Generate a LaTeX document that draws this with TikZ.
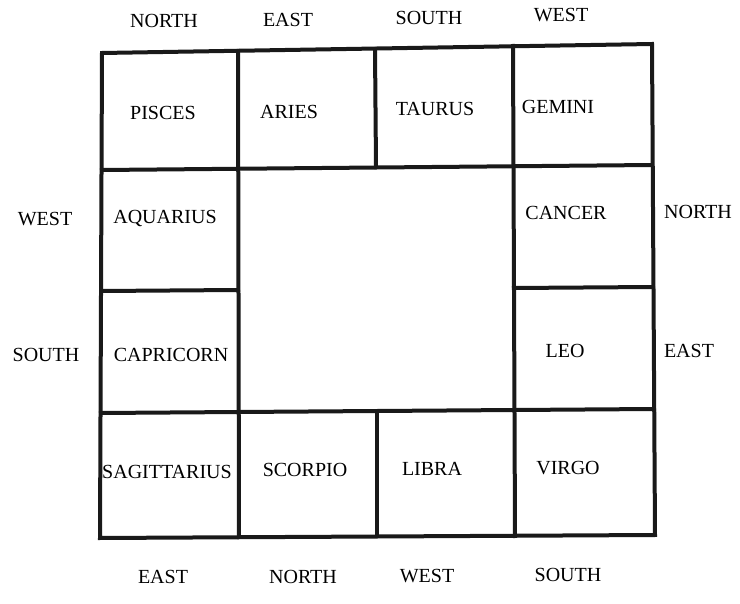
\documentclass[tikz,border=0pt]{standalone}
\usepackage{fontspec}
\setmainfont{Liberation Serif}
\begin{document}
\begin{tikzpicture}[x=1pt,y=-1pt,
  grid/.style={line width=4pt,draw=black!90,line cap=rect,line join=miter},
  sign/.style={font=\fontsize{20}{24}\selectfont,inner sep=0pt,anchor=center},
  dir/.style={font=\fontsize{20}{24}\selectfont,inner sep=0pt,anchor=center}]
\useasboundingbox (0,0) rectangle (740,604);
% outer frame
\draw[grid] (102,53) -- (652,44) -- (655,535) -- (100,538) -- cycle;
% full horizontal lines
\draw[grid] (102,170) -- (652,165);
\draw[grid] (101,413) -- (654,409);
% partial horizontal lines
\draw[grid] (102,291) -- (238,290);
\draw[grid] (514,288) -- (653,287);
% full vertical lines
\draw[grid] (238,51) -- (239,537);
\draw[grid] (513,46) -- (515,536);
% partial vertical lines
\draw[grid] (375,49) -- (376,167);
\draw[grid] (377,411) -- (377,536);
% signs
\node[sign] (pisces) at (163,113) {PISCES};
\node[sign] (aries) at (289,112) {ARIES};
\node[sign] (taurus) at (435,109) {TAURUS};
\node[sign] (gemini) at (558,107) {GEMINI};
\node[sign] (aquarius) at (165,219) {AQUARIUS};
\node[sign] (cancer) at (566,213) {CANCER};
\node[sign] (capricorn) at (171,355) {CAPRICORN};
\node[sign] (leo) at (565,351) {LEO};
\node[sign] (sagittarius) at (167,472) {SAGITTARIUS};
\node[sign] (scorpio) at (305,470) {SCORPIO};
\node[sign] (libra) at (432,469) {LIBRA};
\node[sign] (virgo) at (568,468) {VIRGO};
% directions
\node[dir] (tn) at (164,21) {NORTH};
\node[dir] (te) at (288,20) {EAST};
\node[dir] (ts) at (429,18) {SOUTH};
\node[dir] (tw) at (561,15) {WEST};
\node[dir] (lw) at (45,219) {WEST};
\node[dir] (ls) at (46,355) {SOUTH};
\node[dir] (rn) at (698,212) {NORTH};
\node[dir] (re) at (689,351) {EAST};
\node[dir] (be) at (163,577) {EAST};
\node[dir] (bn) at (303,577) {NORTH};
\node[dir] (bw) at (427,576) {WEST};
\node[dir] (bs) at (568,575) {SOUTH};
\end{tikzpicture}
\end{document}
